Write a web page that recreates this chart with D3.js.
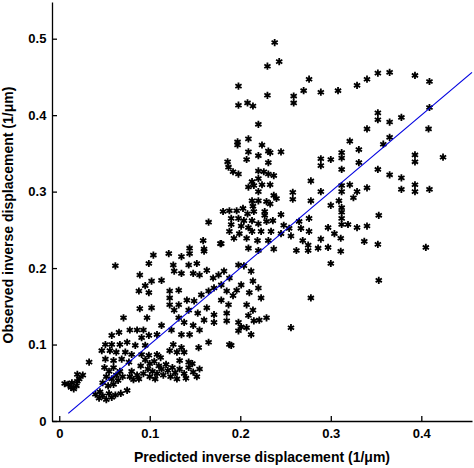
<!DOCTYPE html><html><head><meta charset="utf-8"><script src="https://cdn.jsdelivr.net/npm/d3@7"></script>
<style>body{margin:0;background:#fff}</style></head><body><svg id="c" width="474" height="468"></svg><script>
const xTicks=[0,0.1,0.2,0.3,0.4];
const yTicks=[0,0.1,0.2,0.3,0.4,0.5];
const fitLine=[[0.01,0.01],[0.456,0.456]];
const points=[[0.238,0.495],[0.243,0.470],[0.230,0.464],[0.198,0.438],[0.198,0.413],[0.208,0.416],[0.214,0.412],[0.230,0.426],[0.220,0.388],[0.276,0.447],[0.270,0.432],[0.259,0.425],[0.259,0.416],[0.289,0.430],[0.308,0.432],[0.329,0.439],[0.340,0.447],[0.352,0.455],[0.365,0.456],[0.393,0.452],[0.409,0.444],[0.352,0.403],[0.352,0.394],[0.365,0.391],[0.378,0.397],[0.340,0.382],[0.409,0.410],[0.408,0.382],[0.365,0.371],[0.358,0.362],[0.321,0.366],[0.331,0.355],[0.312,0.351],[0.312,0.344],[0.300,0.342],[0.289,0.343],[0.289,0.334],[0.312,0.329],[0.331,0.338],[0.393,0.348],[0.393,0.339],[0.424,0.345],[0.352,0.329],[0.365,0.322],[0.378,0.318],[0.393,0.309],[0.393,0.300],[0.409,0.303],[0.378,0.303],[0.340,0.305],[0.321,0.309],[0.312,0.308],[0.312,0.300],[0.329,0.300],[0.325,0.292],[0.278,0.314],[0.289,0.300],[0.278,0.288],[0.309,0.288],[0.300,0.282],[0.312,0.279],[0.312,0.273],[0.312,0.265],[0.353,0.269],[0.312,0.257],[0.319,0.257],[0.297,0.253],[0.329,0.253],[0.340,0.255],[0.289,0.238],[0.304,0.245],[0.337,0.235],[0.352,0.231],[0.405,0.227],[0.258,0.299],[0.258,0.290],[0.245,0.352],[0.224,0.361],[0.209,0.369],[0.197,0.365],[0.197,0.361],[0.209,0.352],[0.220,0.347],[0.231,0.353],[0.233,0.351],[0.207,0.342],[0.186,0.339],[0.187,0.332],[0.192,0.326],[0.198,0.323],[0.231,0.338],[0.220,0.327],[0.226,0.326],[0.231,0.323],[0.237,0.321],[0.213,0.313],[0.220,0.317],[0.209,0.306],[0.215,0.308],[0.224,0.309],[0.233,0.309],[0.220,0.300],[0.237,0.295],[0.240,0.291],[0.213,0.288],[0.220,0.288],[0.229,0.287],[0.233,0.284],[0.214,0.281],[0.181,0.274],[0.188,0.275],[0.196,0.275],[0.203,0.278],[0.208,0.271],[0.215,0.274],[0.227,0.274],[0.227,0.269],[0.165,0.260],[0.190,0.265],[0.198,0.265],[0.204,0.262],[0.213,0.262],[0.190,0.257],[0.201,0.255],[0.209,0.253],[0.220,0.258],[0.229,0.261],[0.236,0.262],[0.245,0.270],[0.248,0.256],[0.188,0.248],[0.199,0.245],[0.213,0.248],[0.223,0.248],[0.234,0.248],[0.245,0.245],[0.254,0.252],[0.265,0.261],[0.276,0.265],[0.267,0.252],[0.276,0.248],[0.256,0.242],[0.193,0.239],[0.207,0.239],[0.219,0.236],[0.231,0.236],[0.269,0.236],[0.275,0.230],[0.275,0.223],[0.286,0.226],[0.159,0.236],[0.178,0.232],[0.144,0.226],[0.160,0.225],[0.209,0.226],[0.220,0.223],[0.237,0.225],[0.262,0.223],[0.297,0.227],[0.311,0.222],
[0.062,0.203],[0.104,0.217],[0.121,0.219],[0.135,0.215],[0.144,0.219],[0.160,0.222],[0.179,0.232],[0.126,0.204],[0.143,0.204],[0.152,0.206],[0.089,0.191],[0.099,0.206],[0.127,0.196],[0.135,0.193],[0.148,0.193],[0.155,0.191],[0.163,0.197],[0.170,0.187],[0.176,0.191],[0.182,0.196],[0.188,0.187],[0.198,0.204],[0.204,0.203],[0.212,0.196],[0.113,0.184],[0.102,0.183],[0.095,0.177],[0.088,0.170],[0.099,0.168],[0.122,0.170],[0.132,0.171],[0.122,0.161],[0.141,0.158],[0.149,0.157],[0.157,0.165],[0.165,0.170],[0.171,0.174],[0.179,0.178],[0.185,0.170],[0.179,0.158],[0.187,0.152],[0.192,0.164],[0.196,0.171],[0.201,0.178],[0.210,0.168],[0.214,0.183],[0.207,0.152],[0.214,0.145],[0.122,0.152],[0.132,0.152],[0.127,0.145],[0.089,0.147],[0.102,0.148],[0.097,0.135],[0.143,0.145],[0.153,0.141],[0.163,0.148],[0.171,0.139],[0.185,0.141],[0.160,0.132],[0.171,0.129],[0.185,0.131],[0.198,0.129],[0.209,0.138],[0.201,0.123],[0.215,0.131],[0.132,0.135],[0.138,0.129],[0.148,0.125],[0.155,0.119],[0.144,0.113],[0.135,0.113],[0.124,0.119],[0.113,0.125],[0.108,0.113],[0.071,0.135],[0.078,0.119],[0.086,0.119],[0.093,0.119],[0.099,0.112],[0.091,0.109],[0.066,0.116],[0.058,0.112],[0.051,0.100],[0.058,0.100],[0.067,0.100],[0.075,0.103],[0.084,0.099],[0.095,0.099],[0.126,0.100],[0.135,0.096],[0.154,0.096],[0.165,0.103],[0.188,0.100],[0.047,0.092],[0.056,0.092],[0.063,0.090],[0.073,0.090],[0.080,0.087],[0.033,0.077],[0.051,0.081],[0.060,0.079],[0.069,0.081],[0.077,0.077],[0.091,0.087],[0.099,0.086],[0.108,0.087],[0.122,0.092],[0.130,0.090],[0.138,0.090],[0.133,0.079],[0.143,0.077],
[0.095,0.080],[0.100,0.075],[0.105,0.078],[0.110,0.072],[0.098,0.068],[0.103,0.065],[0.108,0.062],[0.113,0.068],[0.118,0.074],[0.093,0.062],[0.100,0.058],[0.106,0.055],[0.115,0.060],[0.120,0.066],[0.125,0.070],[0.128,0.063],[0.123,0.058],[0.133,0.068],[0.138,0.062],[0.130,0.055],[0.143,0.070],[0.148,0.064],[0.140,0.056],[0.152,0.058],[0.147,0.075],[0.155,0.068],[0.112,0.083],[0.090,0.072],
[0.078,0.058],[0.082,0.054],[0.086,0.060],[0.080,0.065],[0.088,0.055],
[0.050,0.070],[0.055,0.065],[0.060,0.070],[0.052,0.058],[0.058,0.055],[0.063,0.060],[0.067,0.065],[0.048,0.050],[0.054,0.046],[0.060,0.048],[0.065,0.053],[0.070,0.058],
[0.040,0.035],[0.044,0.030],[0.048,0.033],[0.052,0.028],[0.055,0.036],[0.058,0.031],[0.045,0.038],[0.062,0.034],[0.068,0.036],[0.075,0.040],
[0.010,0.048],[0.013,0.044],[0.016,0.042],[0.019,0.046],[0.014,0.050],[0.020,0.052],[0.022,0.055],[0.006,0.049],[0.020,0.061],[0.026,0.060],
[0.190,0.099],[0.198,0.118],[0.212,0.113],[0.221,0.132],[0.220,0.174],[0.278,0.161],[0.256,0.122],[0.229,0.135],[0.207,0.122],[0.300,0.206],[0.311,0.239],[0.353,0.184],[0.223,0.161]];

const svg=d3.select("#c");
const x=d3.scaleLinear().domain([-0.008,0.456]).range([52,472]);
const y=d3.scaleLinear().domain([0,0.548]).range([421,2]);
const sym=d3.symbol().type(d3.symbolAsterisk).size(36);
svg.append("g").selectAll("path").data(points).join("path")
 .attr("transform",d=>`translate(${x(d[0])},${y(d[1])})`).attr("d",sym)
 .attr("fill","none").attr("stroke","#000").attr("stroke-width",1.8);
svg.append("line").attr("x1",x(fitLine[0][0])).attr("y1",y(fitLine[0][1])).attr("x2",x(fitLine[1][0])).attr("y2",y(fitLine[1][1])).attr("stroke","#0000e0").attr("stroke-width",1.2);
const xa=svg.append("g").attr("transform","translate(0,421)").call(d3.axisBottom(x).tickValues(xTicks).tickFormat(d=>String(d)).tickSize(-5).tickSizeOuter(0));
const ya=svg.append("g").attr("transform","translate(52,0)").call(d3.axisLeft(y).tickValues(yTicks).tickFormat(d=>String(d)).tickSize(-5).tickSizeOuter(0));
[xa,ya].forEach(a=>{a.selectAll("text").attr("font-family","Liberation Sans, Arial").attr("font-size",13).attr("font-weight","bold").attr("fill","#000");a.selectAll("line,path").attr("stroke","#000").attr("stroke-width",1.3);});
xa.selectAll("text").attr("dy","1.1em");
ya.selectAll("text").attr("dx","-0.2em");
svg.append("text").attr("x",262).attr("y",462).attr("text-anchor","middle").attr("font-family","Liberation Sans, Arial").attr("font-size",14).attr("font-weight","bold").text("Predicted inverse displacement (1/μm)");
svg.append("text").attr("transform","translate(13,215) rotate(-90)").attr("text-anchor","middle").attr("font-family","Liberation Sans, Arial").attr("font-size",14).attr("font-weight","bold").text("Observed inverse displacement (1/μm)");
</script></body></html>
